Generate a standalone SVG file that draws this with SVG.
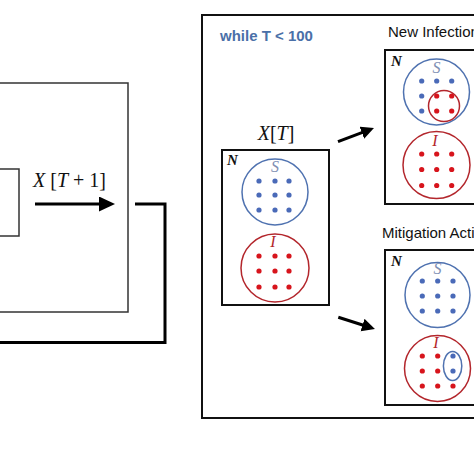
<svg xmlns="http://www.w3.org/2000/svg" width="474" height="474" viewBox="0 0 474 474">
<style>
.box{fill:none;stroke:#111;stroke-width:2}
.thin{fill:none;stroke:#333;stroke-width:1.5}
.sc{fill:none;stroke:#4f72b0;stroke-width:1.5}
.ic{fill:none;stroke:#b3262c;stroke-width:1.5}
.bd{fill:#4a6ab8}
.rd{fill:#d7141c}
.lbl{font-family:"Liberation Serif",serif;font-size:20px;fill:#111}
.it{font-style:italic}
.nl{font-family:"Liberation Serif",serif;font-size:15px;font-weight:bold;font-style:italic;fill:#111}
.sl{font-family:"Liberation Serif",serif;font-size:16px;font-style:italic;fill:#8090b4;text-anchor:middle}
.il{font-family:"Liberation Serif",serif;font-size:16px;font-style:italic;fill:#b3262c;text-anchor:middle}
.ttl{font-family:"Liberation Sans",Arial,sans-serif;font-size:15px;fill:#111}
.arr{fill:none;stroke:#000;stroke-width:3}
</style>
<defs>
<marker id="bigHead" markerUnits="userSpaceOnUse" markerWidth="17" markerHeight="16" refX="6" refY="7.5" orient="auto"><path d="M0,0 L16,7.5 L0,15 z" fill="#000"/></marker>
<marker id="smallHead" markerUnits="userSpaceOnUse" markerWidth="14" markerHeight="14" refX="5" refY="6.5" orient="auto"><path d="M0,0 L13,6.5 L0,13 z" fill="#000"/></marker>
</defs>
<rect width="474" height="474" fill="#fff"/>

<g id="left-panel">
<rect class="thin" x="-10" y="83" width="138" height="229"/>
<rect class="thin" x="-10" y="169" width="29" height="67"/>
<text class="lbl" x="33" y="187"><tspan class="it">X</tspan> [<tspan class="it">T</tspan> + 1]</text>
</g>

<g id="loop-panel">
<rect class="box" x="202" y="15" width="300" height="403"/>
<text x="220" y="41" font-family="'Liberation Sans',Arial,sans-serif" font-size="15" font-weight="bold" fill="#4a70a8">while T &lt; 100</text>
</g>

<g id="node-xt">
<text class="lbl" x="276" y="140" text-anchor="middle"><tspan class="it">X</tspan>[<tspan class="it">T</tspan>]</text>
<rect class="box" x="222" y="150" width="107" height="155"/>
<text class="nl" x="227" y="165">N</text>
<circle class="sc" cx="275" cy="192" r="33"/>
<text class="sl" x="275" y="172">S</text>
<g class="bd">
<circle cx="259" cy="181" r="2.6"/><circle cx="275" cy="181" r="2.6"/><circle cx="289" cy="181" r="2.6"/>
<circle cx="259" cy="195" r="2.6"/><circle cx="275" cy="195" r="2.6"/><circle cx="289" cy="195" r="2.6"/>
<circle cx="259" cy="210" r="2.6"/><circle cx="275" cy="210" r="2.6"/><circle cx="289" cy="210" r="2.6"/>
</g>
<circle class="ic" cx="275" cy="268" r="34"/>
<text class="il" x="273" y="247">I</text>
<g class="rd">
<circle cx="259" cy="256" r="2.6"/><circle cx="275" cy="256" r="2.6"/><circle cx="289" cy="256" r="2.6"/>
<circle cx="259" cy="271" r="2.6"/><circle cx="275" cy="271" r="2.6"/><circle cx="289" cy="271" r="2.6"/>
<circle cx="259" cy="287" r="2.6"/><circle cx="275" cy="287" r="2.6"/><circle cx="289" cy="287" r="2.6"/>
</g>
</g>

<g id="node-new-infections">
<text class="ttl" x="388" y="37">New Infections</text>
<rect class="box" x="385" y="50" width="120" height="154"/>
<text class="nl" x="391" y="66">N</text>
<circle class="sc" cx="436.5" cy="92" r="33"/>
<text class="sl" x="436.5" y="73">S</text>
<g class="bd">
<circle cx="421.7" cy="81" r="2.6"/><circle cx="436.7" cy="81" r="2.6"/><circle cx="451.7" cy="81" r="2.6"/>
<circle cx="421.7" cy="96" r="2.6"/><circle cx="421.7" cy="111" r="2.6"/>
</g>
<circle class="ic" cx="444" cy="106" r="15.5"/>
<g class="rd">
<circle cx="436.7" cy="96" r="2.6"/><circle cx="451.7" cy="96" r="2.6"/>
<circle cx="436.7" cy="111" r="2.6"/><circle cx="451.7" cy="111" r="2.6"/>
</g>
<circle class="ic" cx="436.5" cy="165" r="33.5"/>
<text class="il" x="435" y="146">I</text>
<g class="rd">
<circle cx="421.7" cy="154" r="2.6"/><circle cx="436.7" cy="154" r="2.6"/><circle cx="451.7" cy="154" r="2.6"/>
<circle cx="421.7" cy="169.5" r="2.6"/><circle cx="436.7" cy="169.5" r="2.6"/><circle cx="451.7" cy="169.5" r="2.6"/>
<circle cx="421.7" cy="185.5" r="2.6"/><circle cx="436.7" cy="185.5" r="2.6"/><circle cx="451.7" cy="185.5" r="2.6"/>
</g>
</g>

<g id="node-mitigation">
<text class="ttl" x="382" y="238">Mitigation Actions</text>
<rect class="box" x="385" y="250" width="120" height="155"/>
<text class="nl" x="391" y="266">N</text>
<circle class="sc" cx="437.5" cy="295" r="32.5"/>
<text class="sl" x="437.5" y="274">S</text>
<g class="bd">
<circle cx="422.3" cy="281" r="2.6"/><circle cx="437.7" cy="281" r="2.6"/><circle cx="453" cy="281" r="2.6"/>
<circle cx="422.3" cy="296" r="2.6"/><circle cx="437.7" cy="296" r="2.6"/><circle cx="453" cy="296" r="2.6"/>
<circle cx="422.3" cy="311" r="2.6"/><circle cx="437.7" cy="311" r="2.6"/><circle cx="453" cy="311" r="2.6"/>
</g>
<circle class="ic" cx="437.5" cy="368.5" r="33"/>
<text class="il" x="436" y="348">I</text>
<g class="rd">
<circle cx="422.3" cy="356" r="2.6"/><circle cx="437.7" cy="356" r="2.6"/>
<circle cx="422.3" cy="371" r="2.6"/><circle cx="437.7" cy="371" r="2.6"/>
<circle cx="422.3" cy="386" r="2.6"/><circle cx="437.7" cy="386" r="2.6"/><circle cx="453" cy="386" r="2.6"/>
</g>
<g class="bd">
<circle cx="453" cy="356" r="2.6"/><circle cx="453" cy="371" r="2.6"/>
</g>
<ellipse class="sc" cx="452.6" cy="366" rx="9.2" ry="14.5"/>
</g>

<g id="connectors">
<line class="arr" x1="35" y1="204" x2="105" y2="204" marker-end="url(#bigHead)"/>
<path class="arr" d="M135,204 H165 V342.5 H-5"/>
<line class="arr" x1="338" y1="141.7" x2="366.5" y2="130.9" marker-end="url(#smallHead)"/>
<line class="arr" x1="338.3" y1="317.3" x2="367.3" y2="326.5" marker-end="url(#smallHead)"/>
</g>
</svg>
